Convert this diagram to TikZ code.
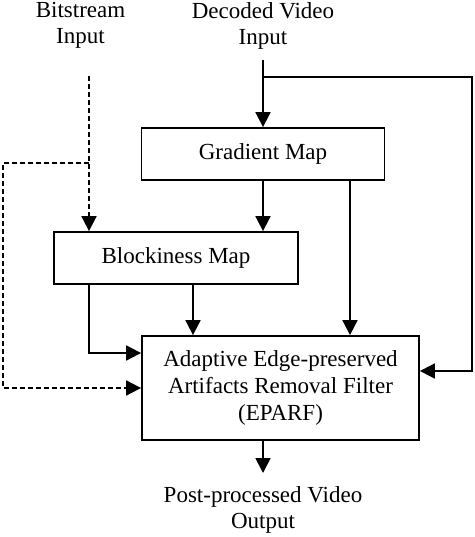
\documentclass[tikz,border=0pt]{standalone}
\usepackage{fontspec}
\setmainfont{Liberation Serif}
\usetikzlibrary{arrows.meta}
\begin{document}
\begin{tikzpicture}[x=1pt,y=-1pt,
  box/.style={draw, line width=1.8pt, inner sep=0pt, align=center, font=\fontsize{23}{27}\selectfont},
  lbl/.style={align=center, inner sep=0pt, font=\fontsize{23}{26}\selectfont},
  conn/.style={line width=1.8pt, -{Triangle[length=15pt,width=15pt]}},
  dconn/.style={conn, dash pattern=on 5pt off 3pt}]
\useasboundingbox (0,0) rectangle (474,537);
% boxes
\node[box, minimum width=243pt, minimum height=52pt] (g) at (263,154) {Gradient Map};
\node[box, minimum width=244pt, minimum height=52pt] (b) at (176,258) {Blockiness Map};
\node[box, minimum width=277pt, minimum height=104pt] (e) at (280.5,388) {Adaptive Edge-preserved\\Artifacts Removal Filter\\(EPARF)};
% labels
\node[lbl] (bsl) at (80.5,25.5) {Bitstream\\Input};
\node[lbl] (dvl) at (263,25.5) {Decoded Video\\Input};
\node[lbl] (outl) at (263,510) {Post-processed Video\\Output};
% coordinates
\coordinate (dvtop) at (263,60);
\coordinate (dvbr) at (263,77);
\coordinate (rt) at (472,77);
\coordinate (rb) at (472,371);
\coordinate (bstop) at (89,76);
\coordinate (bsbr) at (89,163);
\coordinate (dl1) at (3,163);
\coordinate (dl2) at (3,388);
\coordinate (gx) at (350,0);
\coordinate (bx) at (193,0);
\coordinate (bl) at (89,0);
\coordinate (bcorner) at (89,353);
\coordinate (outtip) at (263,473);
% connectors
\draw[conn] (dvtop) -- (g.north);
\draw[conn] (dvbr) -- (rt) -- (rb) -- (e.east |- rb);
\draw[dconn] (bstop) -- (bstop |- b.north);
\draw[dconn] (bsbr) -- (dl1) -- (dl2) -- (e.west |- dl2);
\draw[conn] (g.south) -- (g.south |- b.north);
\draw[conn] (g.south -| gx) -- (e.north -| gx);
\draw[conn] (b.south -| bx) -- (e.north -| bx);
\draw[conn] (b.south -| bl) -- (bcorner) -- (e.west |- bcorner);
\draw[conn] (e.south -| outtip) -- (outtip);
\end{tikzpicture}
\end{document}
